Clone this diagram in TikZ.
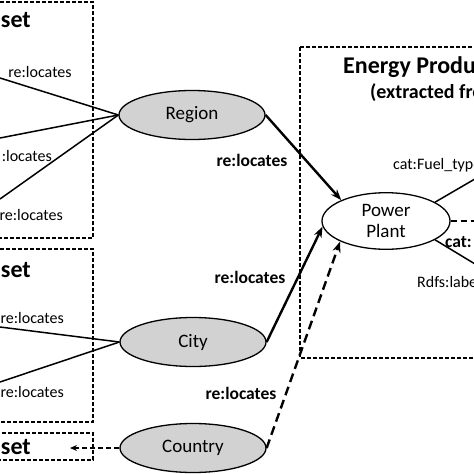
\documentclass[tikz,border=0pt]{standalone}
\usepackage{fontspec}
\setmainfont{Carlito}
\usetikzlibrary{shapes.geometric,arrows.meta}

\begin{document}
\begin{tikzpicture}[x=1pt,y=-1pt,
    entity/.style={ellipse, draw, line width=1.3pt, fill=gray!35, minimum width=146pt, minimum height=49pt, font=\fontsize{19}{21}\selectfont},
    rel/.style={inner sep=0pt, font=\fontsize{16}{18}\selectfont},
    relb/.style={inner sep=0pt, font=\bfseries\fontsize{17.5}{19}\selectfont},
    dset/.style={line width=1.1pt, dash pattern=on 4pt off 2pt},
    link/.style={line width=1.5pt},
    mainlink/.style={line width=2.4pt, -{Stealth[length=11pt,width=8pt]}}]
  \useasboundingbox (0,0) rectangle (474,474);
  \clip (0,0) rectangle (474,474);

  \draw[dset] (-60,2) rectangle (93,238);
  \draw[dset] (-60,249) rectangle (93,422);
  \draw[dset] (-60,433) rectangle (93,460);
  \draw[dset] (300,47) rectangle (540,358);
  \foreach \y in {20,270,447}
    \node[anchor=east, inner sep=0pt, font=\bfseries\fontsize{24}{26}\selectfont] at (31,\y) {set};
  \node[anchor=west, inner sep=0pt, font=\bfseries\fontsize{24}{26}\selectfont] (title) at (343,67) {Energy Production};
  \node[anchor=west, inner sep=0pt, font=\bfseries\fontsize{20}{22}\selectfont] (subtitle) at (370,93) {(extracted from};

  \node[entity] (region) at (192,115) {Region};
  \node[entity] (city) at (193,342) {City};
  \node[entity] (country) at (193,448) {Country};
  \node[ellipse, draw, line width=1.3pt, fill=white, minimum width=128pt, minimum height=48pt, align=center, font=\fontsize{19}{21}\selectfont] (pp) at (386,221) {Power\\Plant};

  \coordinate (r1) at (0,78);
  \coordinate (r2) at (0,138);
  \coordinate (r3) at (0,199);
  \coordinate (c1) at (0,327);
  \coordinate (c2) at (0,382);
  \coordinate (cs) at (70,448);
  \coordinate (ft) at (480,176);
  \coordinate (ds) at (480,221);
  \coordinate (lb) at (480,267);

  \foreach \p in {r1,r2,r3} \draw[link] (region.west) -- (\p);
  \foreach \p in {c1,c2} \draw[link] (city.west) -- (\p);
  \draw[link, dash pattern=on 5pt off 3pt, -{Stealth[length=7pt,width=6pt]}] (country.west) -- (cs);

  \node[rel] at (40,72) {re:locates};
  \node[rel, anchor=east] at (52,156) {:locates};
  \node[rel, anchor=east] at (63,215) {re:locates};
  \node[rel, anchor=east] at (64,318) {re:locates};
  \node[rel, anchor=east] at (64,392) {re:locates};

  \draw[mainlink] (region.east) -- (pp.155);
  \draw[mainlink] (city.east) -- (pp.185);
  \draw[mainlink, dash pattern=on 9pt off 5pt] (country.east) -- (pp.204);
  \node[relb] at (252,160) {re:locates};
  \node[relb] at (250,277) {re:locates};
  \node[relb] at (241,393) {re:locates};

  \draw[link] (pp.21) -- (ft);
  \draw[link, dash pattern=on 6pt off 4pt] (pp.east) -- (ds);
  \draw[link] (pp.-21) -- (lb);
  \node[rel, anchor=west] at (393,165) {cat:Fuel\_type};
  \node[relb, anchor=west] at (445,242) {cat:};
  \node[rel, anchor=west] at (417,282) {Rdfs:label};
\end{tikzpicture}
\end{document}
